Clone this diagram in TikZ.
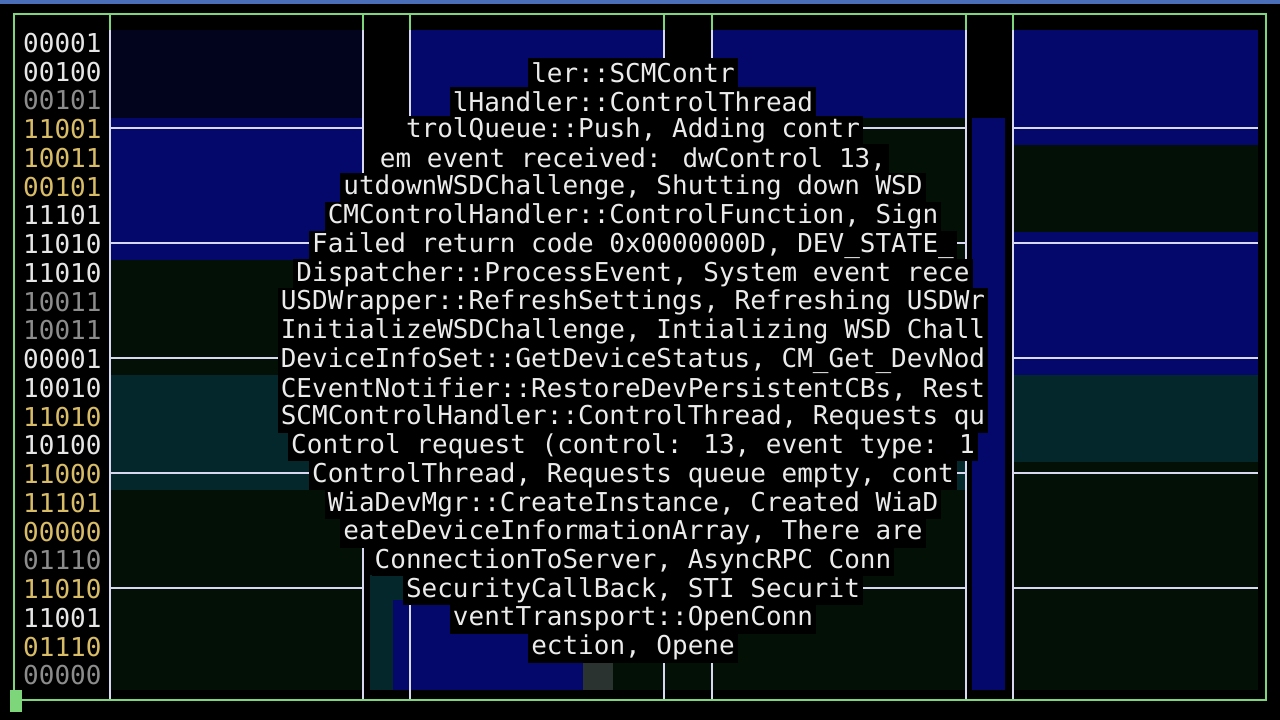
\documentclass[tikz,border=0pt]{standalone}
\usepackage{fontspec}
\newfontfamily\mono{DejaVu Sans Mono}
\definecolor{bgnavy}{HTML}{02031C}
\definecolor{navy}{HTML}{03086A}
\definecolor{dgreen}{HTML}{021006}
\definecolor{teal}{HTML}{03272A}
\definecolor{grline}{HTML}{7ED67A}
\definecolor{wline}{HTML}{D8D8F0}
\definecolor{numw}{HTML}{E6E6E6}
\definecolor{numy}{HTML}{D8BC66}
\definecolor{numg}{HTML}{8C8C8C}
\definecolor{topbar}{HTML}{4A6FB8}
\definecolor{grayteal}{HTML}{2A3330}
\begin{document}
\begin{tikzpicture}[x=1pt,y=-1pt,
  txt/.style={font=\mono\fontsize{26}{28}\selectfont, text=white!92!black, fill=black, inner xsep=3pt, inner ysep=0pt, minimum height=29.5pt, anchor=center},
  num/.style={font=\mono\fontsize{26}{28}\selectfont, inner sep=0pt, anchor=west},
  vl/.style={wline, line width=1.5pt},
  hl/.style={wline, line width=1.5pt}]
\useasboundingbox (0,0) rectangle (1280,720);
\fill[black] (0,0) rectangle (1280,720);
\fill[topbar] (0,0) rectangle (1280,4);
% column 1
\fill[bgnavy] (110,30) rectangle (363,118);
\fill[navy] (110,118) rectangle (363,260);
\fill[dgreen] (110,260) rectangle (363,375);
\fill[teal] (110,375) rectangle (363,490);
\fill[dgreen] (110,490) rectangle (363,690);
% gutter 1
\fill[teal] (370,575) rectangle (410,690);
% column 2
\fill[navy] (410,30) rectangle (664,118);
\fill[navy] (393,600) rectangle (583,690);
\fill[grayteal] (583,600) rectangle (613,690);
\fill[dgreen] (613,600) rectangle (712,690);
% column 3
\fill[navy] (712,30) rectangle (966,118);
\fill[dgreen] (712,118) rectangle (966,260);
\fill[dgreen] (712,260) rectangle (966,375);
\fill[teal] (712,375) rectangle (966,490);
\fill[dgreen] (712,490) rectangle (966,690);
% gutter 4
\fill[navy] (972,118) rectangle (1005,690);
% column 5
\fill[navy] (1013,30) rectangle (1258,145);
\fill[dgreen] (1013,145) rectangle (1258,232);
\fill[navy] (1013,232) rectangle (1258,375);
\fill[teal] (1013,375) rectangle (1258,462);
\fill[dgreen] (1013,462) rectangle (1258,690);
% horizontal lines
\foreach \y in {128,243,358,473,588}{
  \draw[hl] (110,\y) -- (363,\y);
  \draw[hl] (410,\y) -- (664,\y);
  \draw[hl] (712,\y) -- (966,\y);
  \draw[hl] (1013,\y) -- (1258,\y);
}
% vertical lines
\foreach \x in {110,363,410,664,712,966,1013}{
  \draw[vl] (\x,30) -- (\x,700);
  \draw[grline, line width=1.5pt] (\x,14) -- (\x,30);
}
\draw[grline, line width=1.8pt] (14,14) rectangle (1266,700);
\fill[grline] (10,690) rectangle (22,712);
% numbers
\foreach \n/\c [count=\i from 0] in {00001/numw,00100/numw,00101/numg,11001/numy,10011/numy,00101/numy,11101/numw,11010/numw,11010/numw,10011/numg,10011/numg,00001/numw,10010/numw,11010/numy,10100/numw,11000/numy,11101/numy,00000/numy,01110/numg,11010/numy,11001/numw,01110/numy,00000/numg}
  \node[num, text=\c] (n\i) at (23,{43+28.75*\i}) {\n};
% centre text
\foreach \t [count=\i from 1] in {
 ler::SCMContr,
 lHandler::ControlThread,
 {trolQueue::Push, Adding contr},
 {em event received: dwControl 13,},
 {utdownWSDChallenge, Shutting down WSD},
 {CMControlHandler::ControlFunction, Sign},
 {Failed return code 0x0000000D, DEV\_STATE\_},
 {Dispatcher::ProcessEvent, System event rece},
 {USDWrapper::RefreshSettings, Refreshing USDWr},
 {InitializeWSDChallenge, Intializing WSD Chall},
 {DeviceInfoSet::GetDeviceStatus, CM\_Get\_DevNod},
 {CEventNotifier::RestoreDevPersistentCBs, Rest},
 {SCMControlHandler::ControlThread, Requests qu},
 {Control request (control: 13, event type: 1},
 {ControlThread, Requests queue empty, cont},
 {WiaDevMgr::CreateInstance, Created WiaD},
 {eateDeviceInformationArray, There are},
 {ConnectionToServer, AsyncRPC Conn},
 {SecurityCallBack, STI Securit},
 {ventTransport::OpenConn},
 {ection, Opene}}
  \node[txt] (t\i) at (633,{44+28.75*\i}) {\t};
\end{tikzpicture}
\end{document}
